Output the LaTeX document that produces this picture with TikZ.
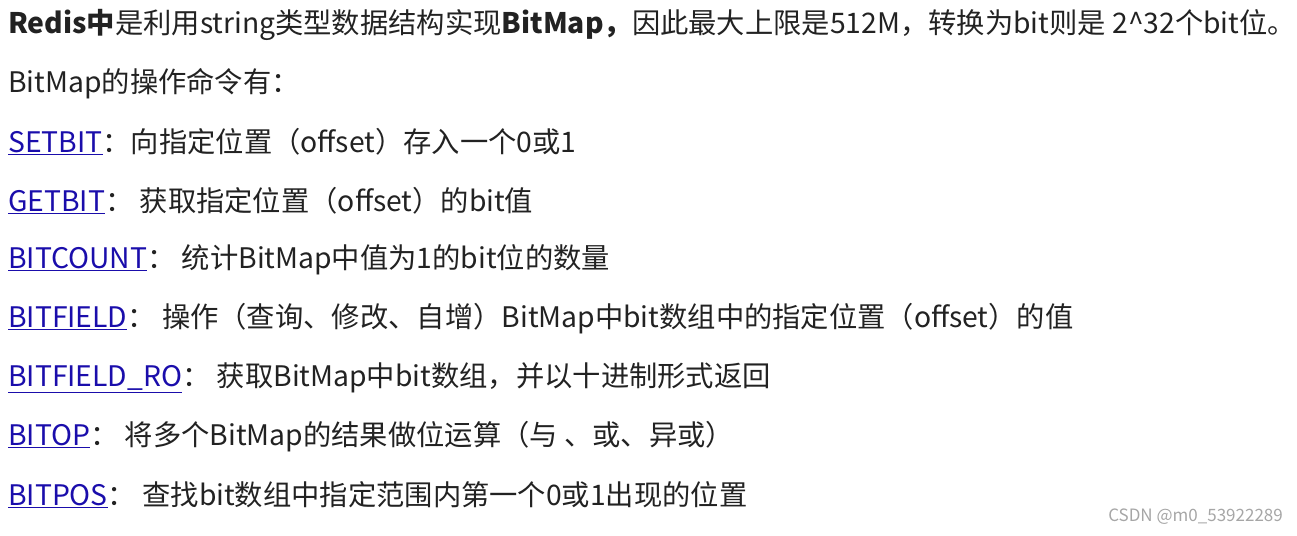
\documentclass[tikz,border=0pt]{standalone}
\usepackage{fontspec}
\setmainfont{Noto Sans CJK SC}
\definecolor{txt}{HTML}{222222}
\definecolor{lnk}{HTML}{1A0DAB}
\newcommand{\lk}[1]{\textcolor{lnk}{\underline{#1}}}
\begin{document}
\begin{tikzpicture}[x=1pt,y=1pt,
  line/.style={anchor=west,inner sep=0pt,text=txt,font=\fontsize{28.3}{32}\selectfont}]
\useasboundingbox (0,0) rectangle (1297,-535);
\node[line] (l1) at (8,-25) {\textbf{Redis中}是利用string类型数据结构实现\textbf{BitMap，}因此最大上限是512M，转换为bit则是 2\^{}32个bit位。};
\node[line] (l2) at (8,-84) {BitMap的操作命令有：};
\node[line] (l3) at (8,-142) {\lk{SETBIT}：向指定位置（offset）存入一个0或1};
\node[line] (l4) at (8,-201) {\lk{GETBIT}： 获取指定位置（offset）的bit值};
\node[line] (l5) at (8,-260) {\lk{BITCOUNT}： 统计BitMap中值为1的bit位的数量};
\node[line] (l6) at (8,-319) {\lk{BITFIELD}： 操作（查询、修改、自增）BitMap中bit数组中的指定位置（offset）的值};
\node[line] (l7) at (8,-378) {\lk{BITFIELD\_RO}： 获取BitMap中bit数组，并以十进制形式返回};
\node[line] (l8) at (8,-437) {\lk{BITOP}： 将多个BitMap的结果做位运算（与 、或、异或）};
\node[line] (l9) at (8,-495) {\lk{BITPOS}： 查找bit数组中指定范围内第一个0或1出现的位置};
\node[anchor=east,inner sep=0pt,text=gray!70,font=\fontsize{17}{19}\selectfont] (wm) at (1283,-517) {CSDN @m0\_53922289};
\end{tikzpicture}
\end{document}
